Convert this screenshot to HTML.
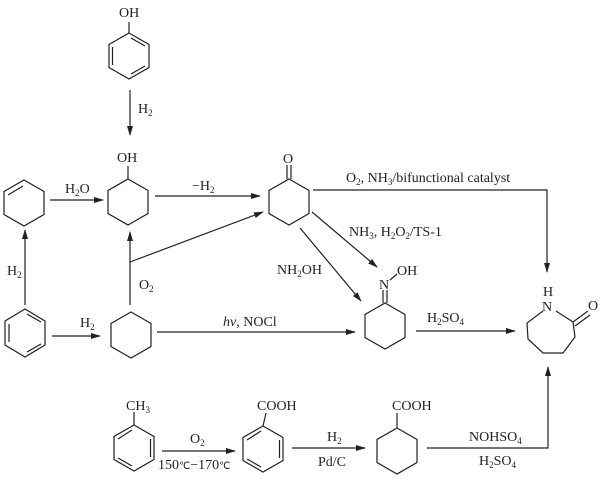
<!DOCTYPE html>
<html><head><style>body{margin:0;background:#fff}svg{display:block}text{font-family:"Liberation Serif",serif;font-size:14px;fill:#222}</style></head>
<body>
<svg width="600" height="478" viewBox="0 0 600 478" xmlns="http://www.w3.org/2000/svg">
<defs><marker id="a" markerWidth="10" markerHeight="8" refX="9" refY="4" orient="auto" markerUnits="userSpaceOnUse"><path d="M0,1 L10,4 L0,7 Z" fill="#222"/></marker></defs>
<g fill="none" stroke="#222" stroke-width="1.2">
<polygon points="129,33 149,44.5 149,67.5 129,79 109,67.5 109,44.5"/>
<line x1="129" y1="33" x2="129" y2="22"/>
<line x1="112.5" y1="47" x2="112.5" y2="65"/><line x1="131" y1="38" x2="145" y2="46"/><line x1="145" y1="66" x2="131" y2="74"/>
<line x1="130" y1="90" x2="130" y2="135" marker-end="url(#a)"/>
<polygon points="128,179 148,190.5 148,213.5 128,225 108,213.5 108,190.5"/>
<line x1="128" y1="179" x2="128" y2="166"/>
<polygon points="24,180 44,191.5 44,214.5 24,226 4,214.5 4,191.5"/>
<line x1="8" y1="195" x2="23" y2="186"/>
<line x1="50" y1="200" x2="103" y2="200" marker-end="url(#a)"/>
<line x1="155" y1="196" x2="260" y2="196" marker-end="url(#a)"/>
<polygon points="289,179 309,190.5 309,213.5 289,225 269,213.5 269,190.5"/>
<line x1="287" y1="179" x2="287" y2="165"/><line x1="291" y1="179" x2="291" y2="165"/>
<polyline points="313,190 547,190 547,272" marker-end="url(#a)"/>
<line x1="312" y1="212" x2="377" y2="267" marker-end="url(#a)"/>
<line x1="300" y1="228" x2="361" y2="301" marker-end="url(#a)"/>
<polygon points="385,303 405,314.5 405,337.5 385,349 365,337.5 365,314.5"/>
<line x1="383" y1="303" x2="383" y2="290"/><line x1="387" y1="303" x2="387" y2="290"/>
<line x1="390" y1="280" x2="397" y2="274"/>
<line x1="416" y1="331" x2="515" y2="331" marker-end="url(#a)"/>
<polyline points="543,311 527,323 528,339 543,353 563,353 575,337 573,322 556,311"/>
<line x1="573" y1="322" x2="588" y2="311"/><line x1="575" y1="326" x2="590" y2="315"/>
<polygon points="25,309 45,321 45,345 25,357 5,345 5,321"/>
<line x1="9" y1="324" x2="9" y2="342"/><line x1="27" y1="314" x2="41" y2="322"/><line x1="41" y1="344" x2="27" y2="352"/>
<line x1="25" y1="305" x2="25" y2="230" marker-end="url(#a)"/>
<line x1="52" y1="336" x2="100" y2="336" marker-end="url(#a)"/>
<polygon points="131,312 151,323.5 151,346.5 131,358 111,346.5 111,323.5"/>
<line x1="130" y1="305" x2="130" y2="232" marker-end="url(#a)"/>
<line x1="130" y1="262" x2="263" y2="212" marker-end="url(#a)"/>
<line x1="157" y1="332" x2="355" y2="332" marker-end="url(#a)"/>
<polygon points="134,425 154,436.5 154,459.5 134,471 114,459.5 114,436.5"/>
<line x1="134" y1="425" x2="134" y2="412"/>
<line x1="150.5" y1="439" x2="150.5" y2="457"/><line x1="118" y1="439" x2="132" y2="430"/><line x1="132" y1="466" x2="118" y2="458"/>
<line x1="162" y1="451" x2="235" y2="451" marker-end="url(#a)"/>
<polygon points="263,426 283,437.5 283,460.5 263,472 243,460.5 243,437.5"/>
<line x1="263" y1="426" x2="266" y2="413"/>
<line x1="247" y1="440" x2="261" y2="431"/><line x1="279.5" y1="440" x2="279.5" y2="458"/><line x1="261" y1="467" x2="247" y2="459"/>
<line x1="292" y1="448" x2="365" y2="448" marker-end="url(#a)"/>
<polygon points="397,428 417,439.5 417,462.5 397,474 377,462.5 377,439.5"/>
<line x1="397" y1="428" x2="397" y2="413"/>
<polyline points="427,448 548,448 548,367" marker-end="url(#a)"/>
</g>
<text x="119" y="17">OH</text>
<text x="138" y="113">H<tspan font-size="9" dy="3">2</tspan></text>
<text x="117" y="162">OH</text>
<text x="65" y="193">H<tspan font-size="9" dy="3">2</tspan><tspan dy="-3">O</tspan></text>
<text x="192" y="190">−H<tspan font-size="9" dy="3">2</tspan></text>
<text x="283" y="163">O</text>
<text x="346" y="182">O<tspan font-size="9" dy="3">2</tspan><tspan dy="-3">, NH</tspan><tspan font-size="9" dy="3">3</tspan><tspan dy="-3">/bifunctional catalyst</tspan></text>
<text x="349" y="236">NH<tspan font-size="9" dy="3">3</tspan><tspan dy="-3">, H</tspan><tspan font-size="9" dy="3">2</tspan><tspan dy="-3">O</tspan><tspan font-size="9" dy="3">2</tspan><tspan dy="-3">/TS-1</tspan></text>
<text x="277" y="274">NH<tspan font-size="9" dy="3">2</tspan><tspan dy="-3">OH</tspan></text>
<text x="379" y="289">N</text>
<text x="397" y="275">OH</text>
<text x="427" y="322">H<tspan font-size="9" dy="3">2</tspan><tspan dy="-3">SO</tspan><tspan font-size="9" dy="3">4</tspan></text>
<text x="543" y="296">H</text>
<text x="542" y="311">N</text>
<text x="588" y="310">O</text>
<text x="7" y="275">H<tspan font-size="9" dy="3">2</tspan></text>
<text x="80" y="327">H<tspan font-size="9" dy="3">2</tspan></text>
<text x="139" y="289">O<tspan font-size="9" dy="3">2</tspan></text>
<text x="223" y="326"><tspan font-style="italic">hv</tspan>, NOCl</text>
<text x="126" y="410">CH<tspan font-size="9" dy="3">3</tspan></text>
<text x="190" y="443">O<tspan font-size="9" dy="3">2</tspan></text>
<text x="158" y="469" font-size="13">150<tspan font-size="10">℃</tspan>−170<tspan font-size="10">℃</tspan></text>
<text x="257" y="410">COOH</text>
<text x="327" y="441">H<tspan font-size="9" dy="3">2</tspan></text>
<text x="318" y="466">Pd/C</text>
<text x="392" y="410">COOH</text>
<text x="469" y="441">NOHSO<tspan font-size="9" dy="3">4</tspan></text>
<text x="479" y="465">H<tspan font-size="9" dy="3">2</tspan><tspan dy="-3">SO</tspan><tspan font-size="9" dy="3">4</tspan></text>
</svg>
</body></html>
